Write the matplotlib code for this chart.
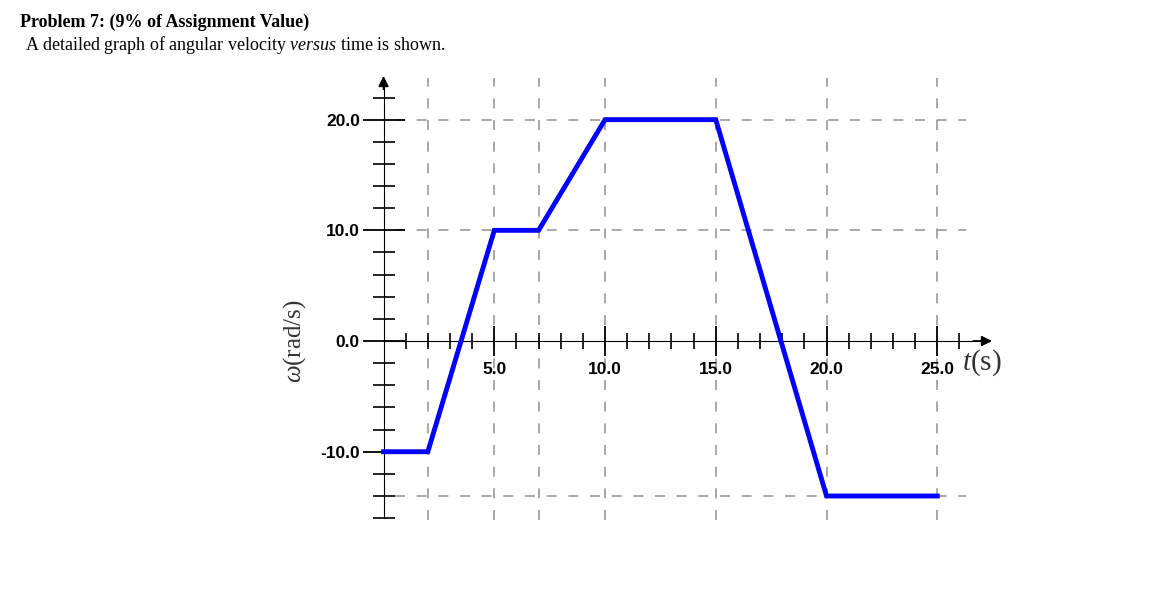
import matplotlib
matplotlib.use("Agg")
import matplotlib.pyplot as plt
from matplotlib.ticker import FixedLocator

t = [0, 2, 5, 7, 10, 15, 20, 25]
w = [-10, -10, 10, 10, 20, 20, -14, -14]
vgrid = [2, 5, 7, 10, 15, 20, 25]
hgrid = [20, 10, -14]
xticks = [5, 10, 15, 20, 25]
yticks = [-10, 0, 10, 20]

plt.rcParams['mathtext.fontset'] = 'custom'
plt.rcParams['mathtext.rm'] = 'Liberation Serif'
plt.rcParams['mathtext.it'] = 'Liberation Serif:italic'

W, H = 1154, 598
fig = plt.figure(figsize=(W/100, H/100), dpi=100)
l, r, b, tp = 361.4, 1003.7, 529.2, 64.3
ax = fig.add_axes([l/W, 1-b/H, (r-l)/W, (b-tp)/H])
ax.set_xlim(-1, 28)
ax.set_ylim(-17, 25)

for v in vgrid:
    ax.plot([v, v], [-16.2, 23.8], ls=(0, (6, 7)), color='#999999', lw=1.2, zorder=1)
for h in hgrid:
    ax.plot([0.5, 26.3], [h, h], ls=(0, (6, 7)), color='#999999', lw=1.2, zorder=1)

ax.plot(t, w, color='#0000ff', lw=3.5, solid_joinstyle='miter', zorder=3)

for s in ['top', 'right']:
    ax.spines[s].set_visible(False)
ax.spines['left'].set_position(('data', 0))
ax.spines['bottom'].set_position(('data', 0))
ax.spines['left'].set_bounds(-16, 23)
ax.spines['bottom'].set_bounds(0, 27)
ax.annotate('', xy=(0, 24.2), xytext=(0, 22.5),
            arrowprops=dict(arrowstyle='-|>', color='black', lw=1.3, mutation_scale=15))
ax.annotate('', xy=(27.6, 0), xytext=(26.5, 0),
            arrowprops=dict(arrowstyle='-|>', color='black', lw=1.3, mutation_scale=15))

ax.set_xticks(xticks)
ax.set_xticklabels([f"{v:.1f}" for v in xticks], family='Liberation Sans', fontweight='bold', fontsize=12.5)
ax.set_yticks(yticks)
ax.set_yticklabels([f"{v:.1f}" for v in yticks], family='Liberation Sans', fontweight='bold', fontsize=12.5)
ax.xaxis.set_minor_locator(FixedLocator([i for i in range(1, 27) if i % 5]))
ax.yaxis.set_minor_locator(FixedLocator([i for i in range(-16, 23, 2) if i % 10]))
ax.tick_params(axis='x', which='major', direction='inout', length=22, width=1.3, pad=4)
ax.tick_params(axis='x', which='minor', direction='inout', length=12, width=1.2)
ax.tick_params(axis='y', which='major', direction='inout', length=30, width=1.3, pad=2)
ax.tick_params(axis='y', which='minor', direction='inout', length=16, width=1.2)
ax.set_facecolor('none')

ax.text(-4.0, 0, r'$\omega\mathrm{(rad/s)}$', rotation=90, ha='center', va='center',
        fontsize=18, color='#333333')
ax.text(26.1, -2.0, r'$t\mathrm{(s)}$', ha='left', va='center', fontsize=21, color='#333333')

fig.text(20/W, 1-22/H, 'Problem 7: (9% of Assignment Value)', family='Liberation Serif',
         fontweight='bold', fontsize=13, va='center')
fig.text(25/W, 1-45/H, r'A detailed graph of angular velocity $\it{versus}$ time is shown.',
         family='Liberation Serif', fontsize=13, va='center')

fig.savefig('out.png', dpi=100)
